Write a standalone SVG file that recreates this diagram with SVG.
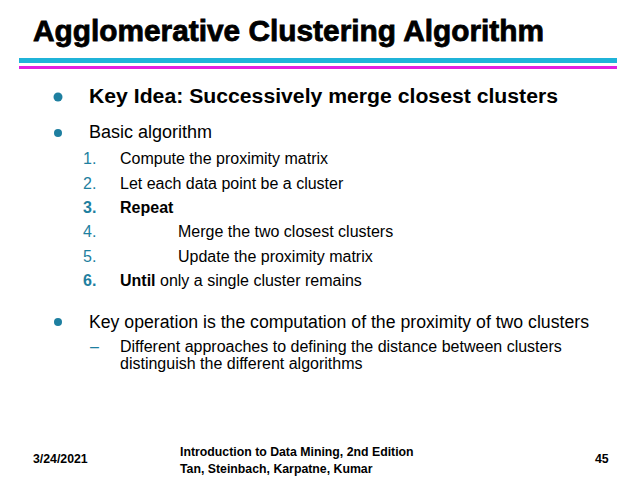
<svg xmlns="http://www.w3.org/2000/svg" width="638" height="478" viewBox="0 0 638 478">
<style>
text{font-family:"Liberation Sans",Arial,sans-serif;fill:#000}
.n{fill:#1e7fa0;font-size:16px}
.s{font-size:16px}
.b{font-size:18px}
.f{font-size:12.3px;font-weight:bold}
.dot{fill:#1e7fa0}
</style>
<rect width="638" height="478" fill="#fff"/>
<text x="33" y="41" font-size="30" font-weight="bold" stroke="#000" stroke-width="0.8" textLength="511" lengthAdjust="spacingAndGlyphs">Agglomerative Clustering Algorithm</text>
<rect x="19" y="58" width="598" height="5" fill="#1fb3d8"/>
<rect x="19" y="66" width="598" height="3" fill="#e020e0"/>
<circle class="dot" cx="58" cy="97" r="4.5"/>
<text x="89" y="103" font-size="20" font-weight="bold" textLength="469" lengthAdjust="spacingAndGlyphs">Key Idea: Successively merge closest clusters</text>
<circle class="dot" cx="58" cy="133" r="4"/>
<text x="89" y="138" class="b">Basic algorithm</text>
<text x="83" y="164" class="n">1.</text><text x="120" y="164" class="s">Compute the proximity matrix</text>
<text x="83" y="189" class="n">2.</text><text x="120" y="189" class="s">Let each data point be a cluster</text>
<text x="83" y="213" class="n" font-weight="bold">3.</text><text x="120" y="213" class="s" font-weight="bold">Repeat</text>
<text x="83" y="237" class="n">4.</text><text x="178" y="237" class="s">Merge the two closest clusters</text>
<text x="83" y="262" class="n">5.</text><text x="178" y="262" class="s">Update the proximity matrix</text>
<text x="83" y="286" class="n" font-weight="bold">6.</text><text x="120" y="286" class="s"><tspan font-weight="bold">Until</tspan> only a single cluster remains</text>
<circle class="dot" cx="58" cy="322" r="4"/>
<text x="89" y="328" class="b" textLength="500" lengthAdjust="spacingAndGlyphs">Key operation is the computation of the proximity of two clusters</text>
<text x="90" y="352" class="s" style="fill:#1e7fa0">–</text>
<text x="120" y="352" class="s">Different approaches to defining the distance between clusters</text>
<text x="120" y="369" class="s">distinguish the different algorithms</text>
<text x="33" y="463" class="f">3/24/2021</text>
<text x="180" y="456" class="f">Introduction to Data Mining, 2nd Edition</text>
<text x="180" y="473" class="f">Tan, Steinbach, Karpatne, Kumar</text>
<text x="595" y="463" class="f">45</text>
</svg>
